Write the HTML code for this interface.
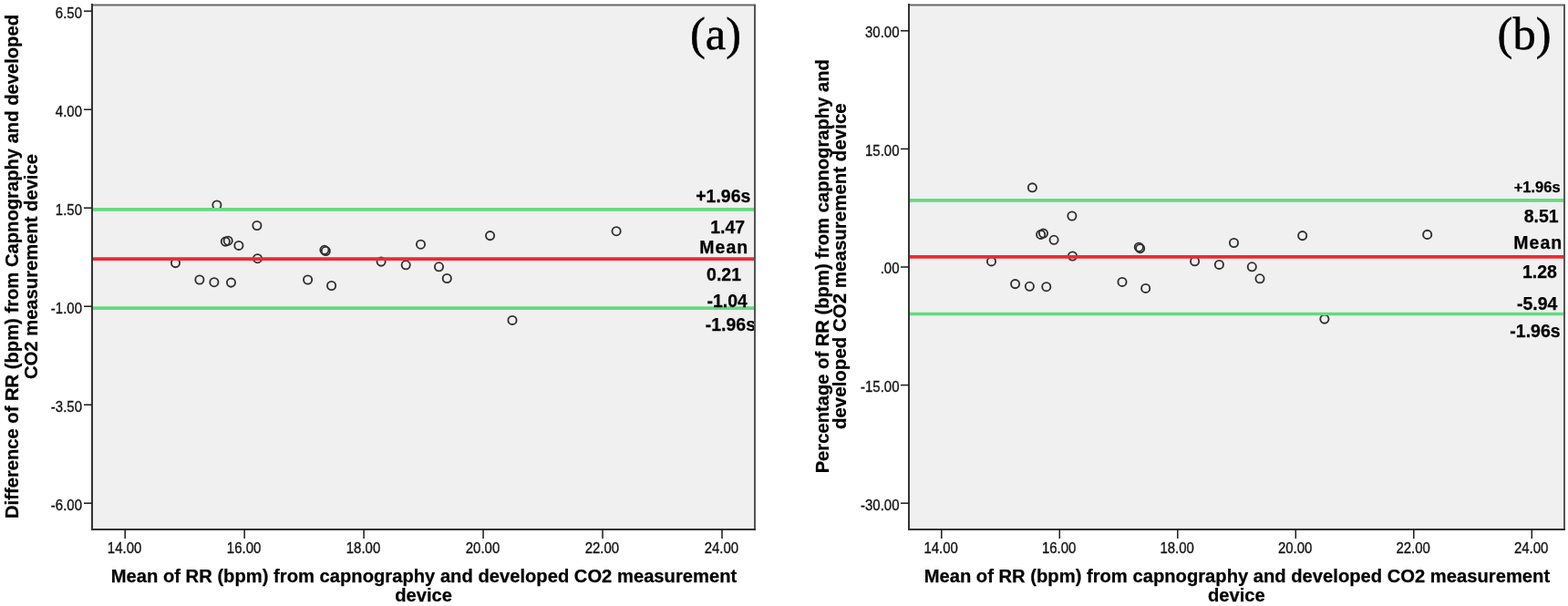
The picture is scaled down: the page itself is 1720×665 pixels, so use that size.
<!DOCTYPE html>
<html><head><meta charset="utf-8"><title>Bland-Altman plots</title>
<style>
html,body{margin:0;padding:0;background:#fff;width:1720px;height:665px;overflow:hidden}
svg{display:block}
.tk{font-family:'Liberation Sans', Arial, sans-serif;font-size:15px;fill:#111;letter-spacing:0px;stroke:#111;stroke-width:0.3px}
.lb{font-family:'Liberation Sans', Arial, sans-serif;font-weight:bold;fill:#000;stroke:#000;stroke-width:0.25px}
.tt{font-family:'Liberation Sans', Arial, sans-serif;font-weight:bold;font-size:20.2px;fill:#000;stroke:#000;stroke-width:0.25px}
.pr{font-family:'Liberation Serif', 'Times New Roman', serif;font-size:50.5px;fill:#000;stroke:#000;stroke-width:0.5px}
</style></head><body>
<svg width="1720" height="665" viewBox="0 0 1720 665">
<rect width="1720" height="665" fill="#fff"/>
<rect x="101" y="5" width="727" height="576" fill="#f0f0f0"/>
<circle cx="192.5" cy="288.6" r="4.6" fill="none" stroke="#303030" stroke-width="1.85"/>
<circle cx="218.9" cy="307.0" r="4.6" fill="none" stroke="#303030" stroke-width="1.85"/>
<circle cx="234.9" cy="309.7" r="4.6" fill="none" stroke="#303030" stroke-width="1.85"/>
<circle cx="237.9" cy="225.0" r="4.6" fill="none" stroke="#303030" stroke-width="1.85"/>
<circle cx="247.3" cy="265.1" r="4.6" fill="none" stroke="#303030" stroke-width="1.85"/>
<circle cx="250.2" cy="264.2" r="4.6" fill="none" stroke="#303030" stroke-width="1.85"/>
<circle cx="253.5" cy="310.1" r="4.6" fill="none" stroke="#303030" stroke-width="1.85"/>
<circle cx="261.9" cy="269.4" r="4.6" fill="none" stroke="#303030" stroke-width="1.85"/>
<circle cx="281.9" cy="247.5" r="4.6" fill="none" stroke="#303030" stroke-width="1.85"/>
<circle cx="282.5" cy="283.7" r="4.6" fill="none" stroke="#303030" stroke-width="1.85"/>
<circle cx="337.6" cy="307.0" r="4.6" fill="none" stroke="#303030" stroke-width="1.85"/>
<circle cx="355.9" cy="274.3" r="4.6" fill="none" stroke="#303030" stroke-width="1.85"/>
<circle cx="357.3" cy="275.5" r="4.6" fill="none" stroke="#303030" stroke-width="1.85"/>
<circle cx="363.6" cy="313.5" r="4.6" fill="none" stroke="#303030" stroke-width="1.85"/>
<circle cx="418.1" cy="287.1" r="4.6" fill="none" stroke="#303030" stroke-width="1.85"/>
<circle cx="445.2" cy="290.8" r="4.6" fill="none" stroke="#303030" stroke-width="1.85"/>
<circle cx="461.5" cy="268.2" r="4.6" fill="none" stroke="#303030" stroke-width="1.85"/>
<circle cx="481.5" cy="292.8" r="4.6" fill="none" stroke="#303030" stroke-width="1.85"/>
<circle cx="490.3" cy="305.5" r="4.6" fill="none" stroke="#303030" stroke-width="1.85"/>
<circle cx="537.6" cy="258.6" r="4.6" fill="none" stroke="#303030" stroke-width="1.85"/>
<circle cx="562.0" cy="351.4" r="4.6" fill="none" stroke="#303030" stroke-width="1.85"/>
<circle cx="676.1" cy="253.7" r="4.6" fill="none" stroke="#303030" stroke-width="1.85"/>
<line x1="101" y1="229.8" x2="828" y2="229.8" stroke="#66d97f" stroke-width="3.7"/>
<line x1="101" y1="284.2" x2="828" y2="284.2" stroke="#ec2a33" stroke-width="3.7"/>
<line x1="101" y1="338.2" x2="828" y2="338.2" stroke="#66d97f" stroke-width="3.7"/>
<text x="823.4" y="221.5" text-anchor="end" class="lb" font-size="19.5">+1.96s</text>
<text x="817.1" y="255.9" text-anchor="end" class="lb" font-size="19.5">1.47</text>
<text x="821.4" y="277.9" text-anchor="end" class="lb" font-size="19.5" letter-spacing="1.1">Mean</text>
<text x="813" y="308.2" text-anchor="end" class="lb" font-size="19.5">0.21</text>
<text x="819.9" y="336.5" text-anchor="end" class="lb" font-size="19.5">-1.04</text>
<text x="829.0" y="362.6" text-anchor="end" class="lb" font-size="19.5">-1.96s</text>
<line x1="101" y1="5.4" x2="829" y2="5.4" stroke="#6a6a6a" stroke-width="2"/>
<line x1="828" y1="5" x2="828" y2="581" stroke="#555" stroke-width="2"/>
<line x1="101" y1="4" x2="101" y2="582" stroke="#333" stroke-width="2"/>
<line x1="100" y1="581" x2="829" y2="581" stroke="#333" stroke-width="2"/>
<line x1="92" y1="12.2" x2="101" y2="12.2" stroke="#1a1a1a" stroke-width="1.5"/>
<text transform="translate(90,19.5) scale(1,1.06)" text-anchor="end" class="tk">6.50</text>
<line x1="92" y1="120.2" x2="101" y2="120.2" stroke="#1a1a1a" stroke-width="1.5"/>
<text transform="translate(90,127.5) scale(1,1.06)" text-anchor="end" class="tk">4.00</text>
<line x1="92" y1="228.2" x2="101" y2="228.2" stroke="#1a1a1a" stroke-width="1.5"/>
<text transform="translate(90,235.5) scale(1,1.06)" text-anchor="end" class="tk">1.50</text>
<line x1="92" y1="336.2" x2="101" y2="336.2" stroke="#1a1a1a" stroke-width="1.5"/>
<text transform="translate(90,343.5) scale(1,1.06)" text-anchor="end" class="tk">-1.00</text>
<line x1="92" y1="444.2" x2="101" y2="444.2" stroke="#1a1a1a" stroke-width="1.5"/>
<text transform="translate(90,451.5) scale(1,1.06)" text-anchor="end" class="tk">-3.50</text>
<line x1="92" y1="552.2" x2="101" y2="552.2" stroke="#1a1a1a" stroke-width="1.5"/>
<text transform="translate(90,559.5) scale(1,1.06)" text-anchor="end" class="tk">-6.00</text>
<line x1="137.2" y1="581" x2="137.2" y2="591" stroke="#1a1a1a" stroke-width="1.5"/>
<text transform="translate(136.6,606.5) scale(1,1.06)" text-anchor="middle" class="tk">14.00</text>
<line x1="268.15999999999997" y1="581" x2="268.15999999999997" y2="591" stroke="#1a1a1a" stroke-width="1.5"/>
<text transform="translate(267.6,606.5) scale(1,1.06)" text-anchor="middle" class="tk">16.00</text>
<line x1="399.12" y1="581" x2="399.12" y2="591" stroke="#1a1a1a" stroke-width="1.5"/>
<text transform="translate(398.5,606.5) scale(1,1.06)" text-anchor="middle" class="tk">18.00</text>
<line x1="530.0799999999999" y1="581" x2="530.0799999999999" y2="591" stroke="#1a1a1a" stroke-width="1.5"/>
<text transform="translate(529.5,606.5) scale(1,1.06)" text-anchor="middle" class="tk">20.00</text>
<line x1="661.04" y1="581" x2="661.04" y2="591" stroke="#1a1a1a" stroke-width="1.5"/>
<text transform="translate(660.4,606.5) scale(1,1.06)" text-anchor="middle" class="tk">22.00</text>
<line x1="792.0" y1="581" x2="792.0" y2="591" stroke="#1a1a1a" stroke-width="1.5"/>
<text transform="translate(791.4,606.5) scale(1,1.06)" text-anchor="middle" class="tk">24.00</text>
<text x="813.1" y="54" text-anchor="end" class="pr">(a)</text>
<text transform="translate(19.5,292.5) rotate(-90)" text-anchor="middle" class="tt">Difference of RR (bpm) from Capnography and developed</text>
<text transform="translate(41,292.5) rotate(-90)" text-anchor="middle" class="tt">CO2 measurement device</text>
<text x="465.0" y="639.2" text-anchor="middle" class="tt">Mean of RR (bpm) from capnography and developed CO2 measurement</text>
<text x="464.6" y="659.5" text-anchor="middle" class="tt">device</text>
<rect x="997" y="5" width="719" height="576" fill="#f0f0f0"/>
<circle cx="1087.5" cy="286.9" r="4.6" fill="none" stroke="#303030" stroke-width="1.85"/>
<circle cx="1113.6" cy="311.6" r="4.6" fill="none" stroke="#303030" stroke-width="1.85"/>
<circle cx="1129.4" cy="314.3" r="4.6" fill="none" stroke="#303030" stroke-width="1.85"/>
<circle cx="1132.4" cy="205.8" r="4.6" fill="none" stroke="#303030" stroke-width="1.85"/>
<circle cx="1141.7" cy="257.4" r="4.6" fill="none" stroke="#303030" stroke-width="1.85"/>
<circle cx="1144.5" cy="256.1" r="4.6" fill="none" stroke="#303030" stroke-width="1.85"/>
<circle cx="1147.8" cy="314.7" r="4.6" fill="none" stroke="#303030" stroke-width="1.85"/>
<circle cx="1156.1" cy="263.3" r="4.6" fill="none" stroke="#303030" stroke-width="1.85"/>
<circle cx="1175.9" cy="237.0" r="4.6" fill="none" stroke="#303030" stroke-width="1.85"/>
<circle cx="1176.5" cy="281.0" r="4.6" fill="none" stroke="#303030" stroke-width="1.85"/>
<circle cx="1231.0" cy="309.4" r="4.6" fill="none" stroke="#303030" stroke-width="1.85"/>
<circle cx="1249.3" cy="271.2" r="4.6" fill="none" stroke="#303030" stroke-width="1.85"/>
<circle cx="1250.7" cy="272.6" r="4.6" fill="none" stroke="#303030" stroke-width="1.85"/>
<circle cx="1256.7" cy="316.4" r="4.6" fill="none" stroke="#303030" stroke-width="1.85"/>
<circle cx="1310.6" cy="286.8" r="4.6" fill="none" stroke="#303030" stroke-width="1.85"/>
<circle cx="1337.4" cy="290.4" r="4.6" fill="none" stroke="#303030" stroke-width="1.85"/>
<circle cx="1353.5" cy="266.5" r="4.6" fill="none" stroke="#303030" stroke-width="1.85"/>
<circle cx="1373.3" cy="292.8" r="4.6" fill="none" stroke="#303030" stroke-width="1.85"/>
<circle cx="1382.0" cy="305.8" r="4.6" fill="none" stroke="#303030" stroke-width="1.85"/>
<circle cx="1428.7" cy="258.6" r="4.6" fill="none" stroke="#303030" stroke-width="1.85"/>
<circle cx="1452.9" cy="350.1" r="4.6" fill="none" stroke="#303030" stroke-width="1.85"/>
<circle cx="1565.7" cy="257.4" r="4.6" fill="none" stroke="#303030" stroke-width="1.85"/>
<line x1="997" y1="219.9" x2="1716" y2="219.9" stroke="#66d97f" stroke-width="3.7"/>
<line x1="997" y1="281.9" x2="1716" y2="281.9" stroke="#ec2a33" stroke-width="3.7"/>
<line x1="997" y1="344.5" x2="1716" y2="344.5" stroke="#66d97f" stroke-width="3.7"/>
<text x="1711.6" y="211.1" text-anchor="end" class="lb" font-size="16.5">+1.96s</text>
<text x="1709.7" y="244.1" text-anchor="end" class="lb" font-size="19.5">8.51</text>
<text x="1714.4" y="272.5" text-anchor="end" class="lb" font-size="19.5" letter-spacing="1.1">Mean</text>
<text x="1707.9" y="305.4" text-anchor="end" class="lb" font-size="19.5">1.28</text>
<text x="1708.4" y="339.5" text-anchor="end" class="lb" font-size="19.5">-5.94</text>
<text x="1711.6" y="369.5" text-anchor="end" class="lb" font-size="19.5">-1.96s</text>
<line x1="997" y1="5.4" x2="1717" y2="5.4" stroke="#6a6a6a" stroke-width="2"/>
<line x1="1716" y1="5" x2="1716" y2="581" stroke="#555" stroke-width="2"/>
<line x1="997" y1="4" x2="997" y2="582" stroke="#333" stroke-width="2"/>
<line x1="996" y1="581" x2="1717" y2="581" stroke="#333" stroke-width="2"/>
<line x1="988" y1="33.8" x2="997" y2="33.8" stroke="#1a1a1a" stroke-width="1.5"/>
<text transform="translate(986.5,41.1) scale(1,1.06)" text-anchor="end" class="tk">30.00</text>
<line x1="988" y1="163.39999999999998" x2="997" y2="163.39999999999998" stroke="#1a1a1a" stroke-width="1.5"/>
<text transform="translate(986.5,170.7) scale(1,1.06)" text-anchor="end" class="tk">15.00</text>
<line x1="988" y1="293.0" x2="997" y2="293.0" stroke="#1a1a1a" stroke-width="1.5"/>
<text transform="translate(986.5,300.3) scale(1,1.06)" text-anchor="end" class="tk">.00</text>
<line x1="988" y1="422.59999999999997" x2="997" y2="422.59999999999997" stroke="#1a1a1a" stroke-width="1.5"/>
<text transform="translate(986.5,429.9) scale(1,1.06)" text-anchor="end" class="tk">-15.00</text>
<line x1="988" y1="552.1999999999999" x2="997" y2="552.1999999999999" stroke="#1a1a1a" stroke-width="1.5"/>
<text transform="translate(986.5,559.5) scale(1,1.06)" text-anchor="end" class="tk">-30.00</text>
<line x1="1032.8" y1="581" x2="1032.8" y2="591" stroke="#1a1a1a" stroke-width="1.5"/>
<text transform="translate(1032.2,606.5) scale(1,1.06)" text-anchor="middle" class="tk">14.00</text>
<line x1="1162.3" y1="581" x2="1162.3" y2="591" stroke="#1a1a1a" stroke-width="1.5"/>
<text transform="translate(1161.7,606.5) scale(1,1.06)" text-anchor="middle" class="tk">16.00</text>
<line x1="1291.8" y1="581" x2="1291.8" y2="591" stroke="#1a1a1a" stroke-width="1.5"/>
<text transform="translate(1291.2,606.5) scale(1,1.06)" text-anchor="middle" class="tk">18.00</text>
<line x1="1421.3" y1="581" x2="1421.3" y2="591" stroke="#1a1a1a" stroke-width="1.5"/>
<text transform="translate(1420.7,606.5) scale(1,1.06)" text-anchor="middle" class="tk">20.00</text>
<line x1="1550.8" y1="581" x2="1550.8" y2="591" stroke="#1a1a1a" stroke-width="1.5"/>
<text transform="translate(1550.2,606.5) scale(1,1.06)" text-anchor="middle" class="tk">22.00</text>
<line x1="1680.3" y1="581" x2="1680.3" y2="591" stroke="#1a1a1a" stroke-width="1.5"/>
<text transform="translate(1679.7,606.5) scale(1,1.06)" text-anchor="middle" class="tk">24.00</text>
<text x="1701.5" y="54" text-anchor="end" class="pr">(b)</text>
<text transform="translate(908.5,292.2) rotate(-90)" text-anchor="middle" class="tt">Percentage of RR (bpm) from capnography and</text>
<text transform="translate(928.3,292.2) rotate(-90)" text-anchor="middle" class="tt" style="font-size:20.5px">developed CO2 measurement device</text>
<text x="1356.9" y="639.1" text-anchor="middle" class="tt">Mean of RR (bpm) from capnography and developed CO2 measurement</text>
<text x="1356.4" y="659.5" text-anchor="middle" class="tt">device</text>
</svg>
</body></html>
